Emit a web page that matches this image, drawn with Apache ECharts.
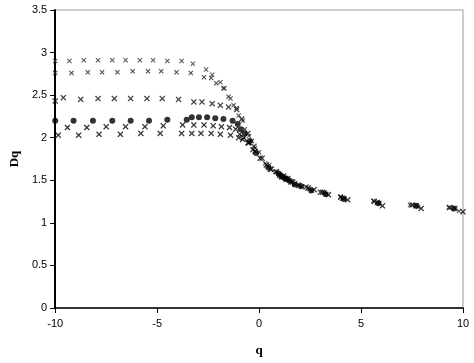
<!DOCTYPE html>
<html>
<head>
<meta charset="utf-8">
<script src="https://cdn.jsdelivr.net/npm/echarts@6/dist/echarts.min.js"></script>
<style>html,body{margin:0;padding:0;background:#fff;}#c{width:474px;height:363px;}</style>
</head>
<body>
<div id="c"></div>
<script>
// Tick labels
var xTicks = [-10, -5, 0, 5, 10];
var yTicks = [0, 0.5, 1, 1.5, 2, 2.5, 3, 3.5];

// Series A (top, x markers)
var qA = [-10, -9.3, -8.6, -7.9, -7.2, -6.55, -5.85, -5.2, -4.5, -3.8, -3.25, -2.6, -2.3, -1.9, -1.7, -1.4, -1.1, -0.8, -0.5, -0.2, 0.3, 0.8, 1.1, 1.5, 1.9, 2.6, 3.3, 4.2, 5.9, 7.8, 9.8];
var dA = [2.9, 2.9, 2.91, 2.91, 2.91, 2.91, 2.91, 2.91, 2.9, 2.9, 2.87, 2.8, 2.74, 2.65, 2.58, 2.46, 2.35, 2.2, 2.02, 1.88, 1.7, 1.6, 1.55, 1.5, 1.45, 1.38, 1.34, 1.29, 1.23, 1.19, 1.14];
// Series B
var qB = [-10, -9.2, -8.4, -7.7, -6.95, -6.2, -5.45, -4.8, -4.05, -3.35, -2.7, -2.35, -2.1, -1.75, -1.5, -1.25, -1.0, -0.7, -0.35, 0.0, 0.5, 0.95, 1.25, 1.6, 2.1, 2.45, 3.2, 4.0, 5.6, 7.4, 9.3];
var dB = [2.76, 2.76, 2.77, 2.77, 2.77, 2.78, 2.78, 2.78, 2.77, 2.76, 2.71, 2.7, 2.64, 2.58, 2.48, 2.38, 2.26, 2.1, 1.96, 1.83, 1.68, 1.58, 1.53, 1.49, 1.43, 1.4, 1.36, 1.31, 1.26, 1.21, 1.18];
// Series C
var qC = [-10, -9.6, -8.75, -7.9, -7.1, -6.3, -5.5, -4.75, -3.95, -3.2, -2.8, -2.3, -1.9, -1.5, -1.1, -0.85, -0.55, -0.25, 0.15, 0.6, 1.0, 1.3, 1.75, 2.3, 3.0, 4.1, 5.8, 7.7, 9.6];
var dC = [2.43, 2.47, 2.45, 2.46, 2.46, 2.46, 2.46, 2.46, 2.45, 2.42, 2.42, 2.4, 2.38, 2.36, 2.33, 2.22, 2.05, 1.9, 1.76, 1.63, 1.56, 1.52, 1.46, 1.42, 1.36, 1.29, 1.24, 1.2, 1.17];
// Series D (filled dots)
var qD = [-10, -9.1, -8.15, -7.2, -6.3, -5.4, -4.5, -3.55, -3.3, -2.95, -2.55, -2.15, -1.75, -1.3, -1.05, -0.9, -0.7, -0.45, -0.15, 0.45, 0.95, 1.05, 1.15, 1.3, 1.45, 1.75, 2.05, 2.55, 3.25, 4.15, 5.85, 7.7, 9.55];
var dD = [2.2, 2.2, 2.2, 2.2, 2.2, 2.2, 2.21, 2.21, 2.24, 2.24, 2.24, 2.23, 2.22, 2.2, 2.16, 2.1, 2.05, 1.96, 1.82, 1.65, 1.58, 1.56, 1.54, 1.52, 1.5, 1.45, 1.43, 1.38, 1.34, 1.28, 1.23, 1.2, 1.17];
// Series E
var qE = [-9.4, -8.45, -7.5, -6.55, -5.6, -4.7, -3.75, -3.2, -2.7, -2.25, -1.85, -1.45, -1.15, -0.95, -0.75, -0.5, -0.2, 0.35, 0.85, 1.2, 1.4, 1.65, 2.4, 3.1, 4.0, 5.65, 7.5, 9.35];
var dE = [2.12, 2.12, 2.13, 2.13, 2.13, 2.14, 2.15, 2.15, 2.15, 2.14, 2.13, 2.12, 2.1, 2.04, 2.0, 1.94, 1.84, 1.68, 1.6, 1.55, 1.52, 1.48, 1.41, 1.36, 1.3, 1.25, 1.21, 1.18];
// Series F (bottom, x markers)
var qF = [-9.85, -8.85, -7.85, -6.8, -5.8, -4.85, -3.8, -3.3, -2.85, -2.35, -1.9, -1.4, -1.0, -0.8, -0.55, -0.3, 0.05, 0.55, 1.1, 1.35, 1.55, 1.95, 2.7, 3.4, 4.35, 6.05, 7.95, 10];
var dF = [2.03, 2.03, 2.04, 2.04, 2.05, 2.05, 2.05, 2.05, 2.05, 2.05, 2.04, 2.03, 2.0, 1.98, 1.94, 1.86, 1.76, 1.63, 1.54, 1.51, 1.48, 1.44, 1.39, 1.33, 1.27, 1.2, 1.17, 1.13];

function pairs(q, d) { var out = []; for (var i = 0; i < q.length; i++) out.push([q[i], d[i]]); return out; }

var X = 'path://M0,1.5L1.5,0L5,3.5L8.5,0L10,1.5L6.5,5L10,8.5L8.5,10L5,6.5L1.5,10L0,8.5L3.5,5Z';
function xSeries(name, q, d, size, color) {
  return { name: name, type: 'scatter', data: pairs(q, d), symbol: X, symbolSize: size,
    itemStyle: { color: color }, silent: true, animation: false };
}

var chart = echarts.init(document.getElementById('c'), null, { renderer: 'canvas' });
chart.setOption({
  animation: false,
  backgroundColor: '#fff',
  grid: { left: 49, right: 11, top: 10, bottom: 55, show: true, borderColor: '#999', borderWidth: 1, backgroundColor: 'transparent' },
  xAxis: {
    type: 'value', min: xTicks[0], max: xTicks[xTicks.length - 1], interval: 5,
    name: 'q', nameLocation: 'middle', nameGap: 36,
    nameTextStyle: { fontFamily: 'Liberation Serif', fontWeight: 'bold', fontSize: 13, color: '#000' },
    axisLine: { show: true, onZero: false, lineStyle: { color: '#000', width: 1.5 } },
    axisTick: { show: true, length: 5, inside: false, lineStyle: { color: '#000' } },
    axisLabel: { fontFamily: 'Liberation Sans', fontSize: 11, color: '#000', margin: 10 },
    splitLine: { show: false }
  },
  yAxis: {
    type: 'value', min: yTicks[0], max: yTicks[yTicks.length - 1], interval: 0.5,
    name: 'Dq', nameLocation: 'middle', nameGap: 34, nameRotate: 90,
    nameTextStyle: { fontFamily: 'Liberation Serif', fontWeight: 'bold', fontSize: 13, color: '#000' },
    axisLine: { show: true, onZero: false, lineStyle: { color: '#000', width: 2 } },
    axisTick: { show: true, length: 5, inside: false, lineStyle: { color: '#000' } },
    axisLabel: { fontFamily: 'Liberation Sans', fontSize: 11, color: '#000', margin: 8,
      formatter: function (v) { return String(v); } },
    splitLine: { show: false }
  },
  series: [
    xSeries('A', qA, dA, 5, '#333'),
    xSeries('B', qB, dB, 5, '#222'),
    xSeries('C', qC, dC, 6, '#111'),
    xSeries('E', qE, dE, 6, '#000'),
    xSeries('F', qF, dF, 6, '#000'),
    { name: 'D', type: 'scatter', data: pairs(qD, dD), symbol: 'circle', symbolSize: 6,
      itemStyle: { color: '#000' }, silent: true, animation: false }
  ]
});
</script>
</body>
</html>
